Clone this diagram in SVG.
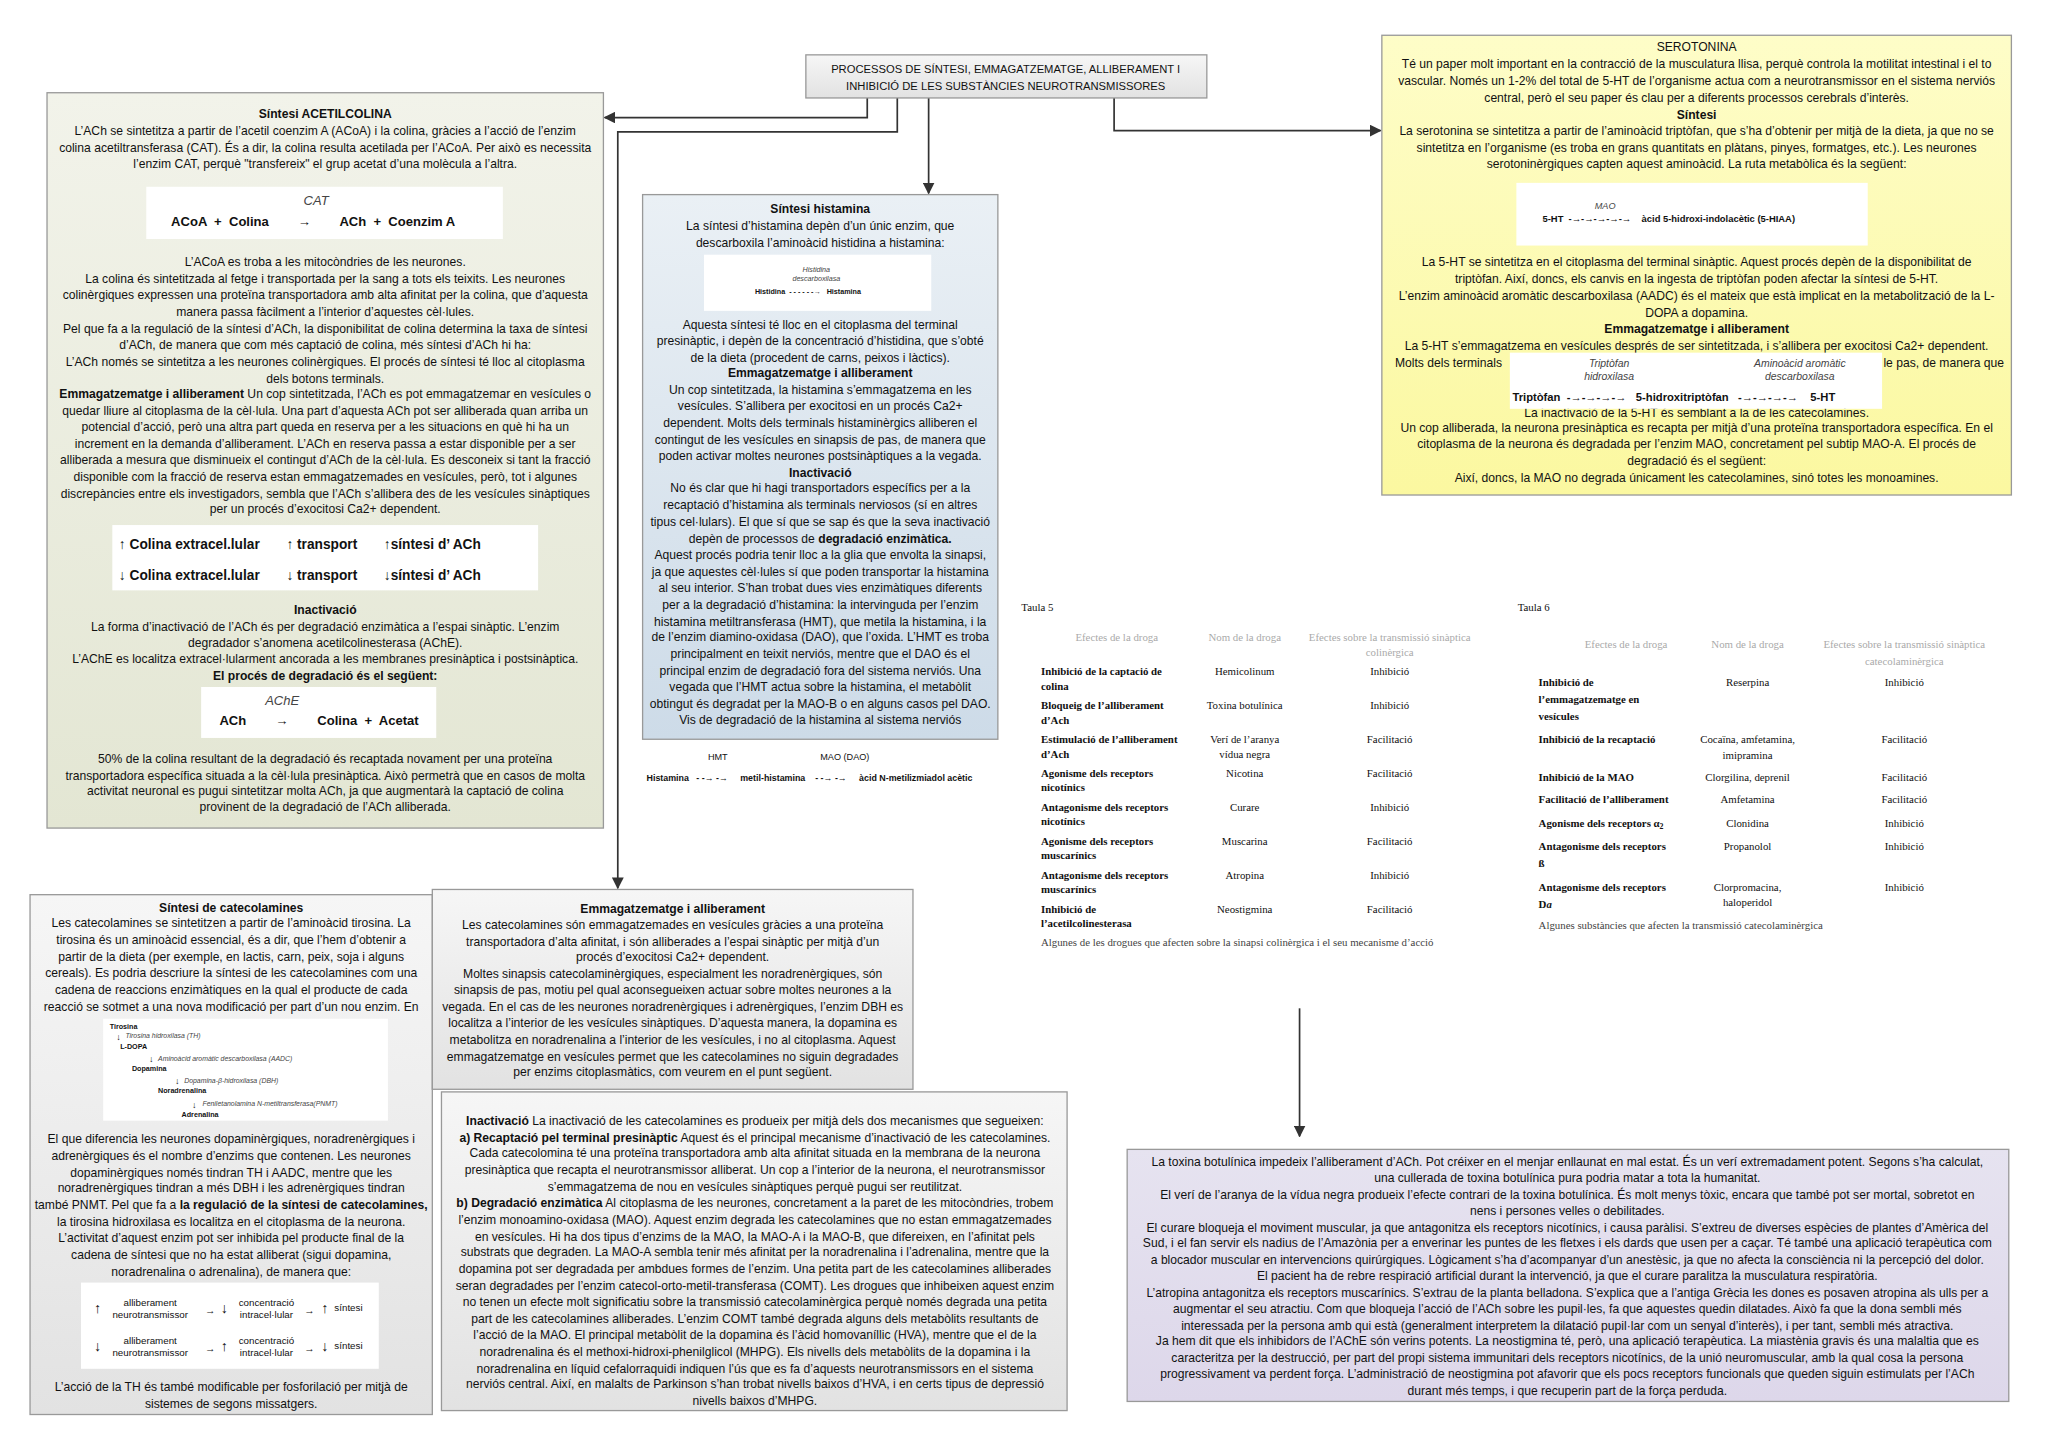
<svg xmlns="http://www.w3.org/2000/svg" width="2048" height="1450" viewBox="0 0 2048 1450">
<defs>
<style>
text{font-family:"Liberation Sans",Arial,sans-serif;font-size:9.3px;fill:#111}
.c{text-anchor:middle}
.b{font-weight:bold}
.i{font-style:italic;fill:#444}
.p{white-space:pre}
.box{stroke:#999;stroke-width:1}
.wb{fill:#fff;stroke:none}
.t{font-family:"Liberation Serif","Times New Roman",serif;font-size:8.3px}
.th{fill:#aaa}
.conn{fill:none;stroke:#333;stroke-width:1.3}
</style>
<marker id="ah" viewBox="0 0 10 10" refX="9" refY="5" markerWidth="7" markerHeight="7" orient="auto"><path d="M0,0L10,5L0,10z" fill="#333"/></marker>
<linearGradient id="gG" x1="0" y1="0" x2="0" y2="1"><stop offset="0" stop-color="#f2f3ea"/><stop offset="1" stop-color="#e3e6d3"/></linearGradient>
<linearGradient id="gB" x1="0" y1="0" x2="0" y2="1"><stop offset="0" stop-color="#eaf0f5"/><stop offset="1" stop-color="#cddbe8"/></linearGradient>
<linearGradient id="gY" x1="0" y1="0" x2="0" y2="1"><stop offset="0" stop-color="#fefdc8"/><stop offset="1" stop-color="#fbf8a0"/></linearGradient>
<linearGradient id="gW" x1="0" y1="0" x2="0" y2="1"><stop offset="0" stop-color="#f6f6f6"/><stop offset="1" stop-color="#e2e2e2"/></linearGradient>
<linearGradient id="gP" x1="0" y1="0" x2="0" y2="1"><stop offset="0" stop-color="#e6e3f0"/><stop offset="1" stop-color="#ddd7ea"/></linearGradient>
</defs>
<rect width="2048" height="1450" fill="#fff"/>
<g transform="scale(1.3061)">

<g id="connectors">
<path class="conn" d="M664,75V90H463" marker-end="url(#ah)"/>
<path class="conn" d="M687,75V101H473V680" marker-end="url(#ah)"/>
<path class="conn" d="M711,75V148" marker-end="url(#ah)"/>
<path class="conn" d="M853,75V100H1057" marker-end="url(#ah)"/>
<path class="conn" d="M995,772V870" marker-end="url(#ah)"/>
</g>

<g id="title">
<rect class="box" x="617" y="42" width="307" height="33" fill="url(#gW)"/>
<text class="c" x="770" y="56" style="font-size:8.6px">PROCESSOS DE SÍNTESI, EMMAGATZEMATGE, ALLIBERAMENT I</text>
<text class="c" x="770" y="69" style="font-size:8.6px">INHIBICIÓ DE LES SUBSTÀNCIES NEUROTRANSMISSORES</text>
</g>

<g id="ach">
<rect class="box" x="36" y="71" width="426" height="563" fill="url(#gG)"/>
<text class="c b" x="249" y="90">Síntesi ACETILCOLINA</text>
<text class="c" x="249" y="103">L’ACh se sintetitza a partir de l’acetil coenzim A (ACoA) i la colina, gràcies a l’acció de l’enzim</text>
<text class="c" x="249" y="116">colina acetiltransferasa (CAT). És a dir, la colina resulta acetilada per l’ACoA. Per això es necessita</text>
<text class="c" x="249" y="129">l’enzim CAT, perquè "transfereix" el grup acetat d’una molècula a l’altra.</text>
<rect class="wb" x="112" y="143" width="273" height="40"/>
<text class="c i" x="242" y="157" style="font-size:10px">CAT</text>
<text class="b p" x="131" y="173" style="font-size:10px">ACoA  +  Colina        →        ACh  +  Coenzim A</text>
<text class="c" x="249" y="204">L’ACoA es troba a les mitocòndries de les neurones.</text>
<text class="c" x="249" y="217">La colina és sintetitzada al fetge i transportada per la sang a tots els teixits. Les neurones</text>
<text class="c" x="249" y="229">colinèrgiques expressen una proteïna transportadora amb alta afinitat per la colina, que d’aquesta</text>
<text class="c" x="249" y="242">manera passa fàcilment a l’interior d’aquestes cèl·lules.</text>
<text class="c" x="249" y="255">Pel que fa a la regulació de la síntesi d’ACh, la disponibilitat de colina determina la taxa de síntesi</text>
<text class="c" x="249" y="267">d’ACh, de manera que com més captació de colina, més síntesi d’ACh hi ha:</text>
<text class="c" x="249" y="280">L’ACh només se sintetitza a les neurones colinèrgiques. El procés de síntesi té lloc al citoplasma</text>
<text class="c" x="249" y="293">dels botons terminals.</text>
<text class="c" x="249" y="305"><tspan class="b">Emmagatzematge i alliberament</tspan> Un cop sintetitzada, l’ACh es pot emmagatzemar en vesícules o</text>
<text class="c" x="249" y="318">quedar lliure al citoplasma de la cèl·lula. Una part d’aquesta ACh pot ser alliberada quan arriba un</text>
<text class="c" x="249" y="330">potencial d’acció, però una altra part queda en reserva per a les situacions en què hi ha un</text>
<text class="c" x="249" y="343">increment en la demanda d’alliberament. L’ACh en reserva passa a estar disponible per a ser</text>
<text class="c" x="249" y="355">alliberada a mesura que disminueix el contingut d’ACh de la cèl·lula. Es desconeix si tant la fracció</text>
<text class="c" x="249" y="368">disponible com la fracció de reserva estan emmagatzemades en vesícules, però, tot i algunes</text>
<text class="c" x="249" y="381">discrepàncies entre els investigadors, sembla que l’ACh s’allibera des de les vesícules sinàptiques</text>
<text class="c" x="249" y="393">per un procés d’exocitosi Ca2+ dependent.</text>
<rect class="wb" x="86" y="402" width="326" height="50"/>
<text class="b p" x="91" y="420" style="font-size:10.5px">↑ Colina extracel.lular       ↑ transport       ↑síntesi d’ ACh</text>
<text class="b p" x="91" y="444" style="font-size:10.5px">↓ Colina extracel.lular       ↓ transport       ↓síntesi d’ ACh</text>
<text class="c b" x="249" y="470">Inactivació</text>
<text class="c" x="249" y="483">La forma d’inactivació de l’ACh és per degradació enzimàtica a l’espai sinàptic. L’enzim</text>
<text class="c" x="249" y="495">degradador s’anomena acetilcolinesterasa (AChE).</text>
<text class="c" x="249" y="508">L’AChE es localitza extracel·lularment ancorada a les membranes presinàptica i postsinàptica.</text>
<text class="c b" x="249" y="521">El procés de degradació és el següent:</text>
<rect class="wb" x="154" y="526" width="180" height="39"/>
<text class="i" x="203" y="540" style="font-size:10px">AChE</text>
<text class="b p" x="168" y="555" style="font-size:10px">ACh        →        Colina  +  Acetat</text>
<text class="c" x="249" y="584">50% de la colina resultant de la degradació és recaptada novament per una proteïna</text>
<text class="c" x="249" y="597">transportadora específica situada a la cèl·lula presinàptica. Això permetrà que en casos de molta</text>
<text class="c" x="249" y="609">activitat neuronal es pugui sintetitzar molta ACh, ja que augmentarà la captació de colina</text>
<text class="c" x="249" y="621">provinent de la degradació de l’ACh alliberada.</text>
</g>

<g id="histamina">
<rect class="box" x="492" y="149" width="272" height="417" fill="url(#gB)"/>
<text class="c b" x="628" y="163">Síntesi histamina</text>
<text class="c" x="628" y="176">La síntesi d’histamina depèn d’un únic enzim, que</text>
<text class="c" x="628" y="189">descarboxila l’aminoàcid histidina a histamina:</text>
<rect class="wb" x="539" y="195" width="174" height="43"/>
<text class="c i" x="625" y="208" style="font-size:5.5px">Histidina</text>
<text class="c i" x="625" y="215" style="font-size:5.5px">descarboxilasa</text>
<text class="b p" x="578" y="225" style="font-size:5.5px">Histidina  - - - - - -→   Histamina</text>
<text class="c" x="628" y="252">Aquesta síntesi té lloc en el citoplasma del terminal</text>
<text class="c" x="628" y="264">presinàptic, i depèn de la concentració d’histidina, que s’obté</text>
<text class="c" x="628" y="277">de la dieta (procedent de carns, peixos i làctics).</text>
<text class="c b" x="628" y="289">Emmagatzematge i alliberament</text>
<text class="c" x="628" y="302">Un cop sintetitzada, la histamina s’emmagatzema en les</text>
<text class="c" x="628" y="314">vesícules.  S’allibera per exocitosi en un procés Ca2+</text>
<text class="c" x="628" y="327">dependent. Molts dels terminals histaminèrgics alliberen el</text>
<text class="c" x="628" y="340">contingut de les vesícules en sinapsis de pas, de manera que</text>
<text class="c" x="628" y="352">poden activar moltes neurones postsinàptiques a la vegada.</text>
<text class="c b" x="628" y="365">Inactivació</text>
<text class="c" x="628" y="377">No és clar que hi hagi transportadors específics per a la</text>
<text class="c" x="628" y="390">recaptació d’histamina als terminals nerviosos (sí en altres</text>
<text class="c" x="628" y="403">tipus cel·lulars). El que sí que se sap és que la seva inactivació</text>
<text class="c" x="628" y="416">depèn de processos de <tspan class="b">degradació enzimàtica.</tspan></text>
<text class="c" x="628" y="428">Aquest procés podria tenir lloc a la glia que envolta la sinapsi,</text>
<text class="c" x="628" y="441">ja que aquestes cèl·lules sí que poden transportar la histamina</text>
<text class="c" x="628" y="453">al seu interior. S’han trobat dues vies enzimàtiques diferents</text>
<text class="c" x="628" y="466">per a la degradació d’histamina: la intervinguda per l’enzim</text>
<text class="c" x="628" y="479">histamina metiltransferasa (HMT), que metila la histamina, i la</text>
<text class="c" x="628" y="491">de l’enzim diamino-oxidasa (DAO), que l’oxida. L’HMT es troba</text>
<text class="c" x="628" y="504">principalment en teixit nerviós, mentre que el DAO és el</text>
<text class="c" x="628" y="517">principal enzim de degradació fora del sistema nerviós. Una</text>
<text class="c" x="628" y="529">vegada que l’HMT actua sobre la histamina, el metabòlit</text>
<text class="c" x="628" y="542">obtingut és degradat per la MAO-B o en alguns casos pel DAO.</text>
<text class="c" x="628" y="554">Vis de degradació de la histamina al sistema nerviós</text>
</g>

<g id="hist-chain">
<text x="542" y="582" style="font-size:7px">HMT</text>
<text x="628" y="582" style="font-size:7px">MAO (DAO)</text>
<text class="b p" x="495" y="598" style="font-size:6.8px">Histamina   - -→ -→     metil-histamina    - -→ -→     àcid N-metilizmiadol acètic</text>
</g>

<g id="serotonina">
<rect class="box" x="1058" y="27" width="482" height="352" fill="url(#gY)"/>
<text class="c" x="1299" y="39">SEROTONINA</text>
<text class="c" x="1299" y="52">Té un paper molt important en la contracció de la musculatura llisa, perquè controla la motilitat intestinal i el to</text>
<text class="c" x="1299" y="65">vascular. Només un 1-2% del total de 5-HT de l’organisme actua com a neurotransmissor en el sistema nerviós</text>
<text class="c" x="1299" y="78">central, però el seu paper és clau per a diferents processos cerebrals d’interès.</text>
<text class="c b" x="1299" y="91">Síntesi</text>
<text class="c" x="1299" y="103">La serotonina se sintetitza a partir de l’aminoàcid triptòfan, que s’ha d’obtenir per mitjà de la dieta, ja que no se</text>
<text class="c" x="1299" y="116">sintetitza en l’organisme (es troba en grans quantitats en plàtans, pinyes, formatges, etc.). Les neurones</text>
<text class="c" x="1299" y="129">serotoninèrgiques capten aquest aminoàcid. La ruta metabòlica és la següent:</text>
<rect class="wb" x="1161" y="140" width="269" height="48"/>
<text class="i" x="1221" y="160" style="font-size:7px">MAO</text>
<text class="b p" x="1181" y="170" style="font-size:7.2px">5-HT  -→-→-→-→-→    àcid 5-hidroxi-indolacètic (5-HIAA)</text>
<text class="c" x="1299" y="204">La 5-HT se sintetitza en el citoplasma del terminal sinàptic. Aquest procés depèn de la disponibilitat de</text>
<text class="c" x="1299" y="217">triptòfan. Així, doncs, els canvis en la ingesta de triptòfan poden afectar la síntesi de 5-HT.</text>
<text class="c" x="1299" y="230">L’enzim aminoàcid aromàtic descarboxilasa (AADC) és el mateix que està implicat en la metabolització de la L-</text>
<text class="c" x="1299" y="243">DOPA a dopamina.</text>
<text class="c b" x="1299" y="255">Emmagatzematge i alliberament</text>
<text class="c" x="1299" y="268">La 5-HT s’emmagatzema en vesícules després de ser sintetitzada, i s’allibera per exocitosi Ca2+ dependent.</text>
<text x="1068" y="281">Molts dels terminals</text>
<text x="1442" y="281">le pas, de manera que</text>
<text class="c" x="1299" y="319">La inactivació de la 5-HT és semblant a la de les catecolamines.</text>
<rect class="wb" x="1156" y="270" width="285" height="43"/>
<text class="c i" x="1232" y="281" style="font-size:8px">Triptòfan</text>
<text class="c i" x="1232" y="291" style="font-size:8px">hidroxilasa</text>
<text class="c i" x="1378" y="281" style="font-size:8px">Aminoàcid aromàtic</text>
<text class="c i" x="1378" y="291" style="font-size:8px">descarboxilasa</text>
<text class="b p" x="1158" y="307" style="font-size:8.6px">Triptòfan  -→-→-→-→   5-hidroxitriptòfan   -→-→-→-→    5-HT</text>
<text class="c" x="1299" y="331">Un cop alliberada, la neurona presinàptica es recapta per mitjà d’una proteïna transportadora específica. En el</text>
<text class="c" x="1299" y="343">citoplasma de la neurona és degradada per l’enzim MAO, concretament pel subtip MAO-A. El procés de</text>
<text class="c" x="1299" y="356">degradació és el següent:</text>
<text class="c" x="1299" y="369">Així, doncs, la MAO no degrada únicament les catecolamines, sinó totes les monoamines.</text>
</g>

<g id="taula5">
<text class="t" x="782" y="468">Taula 5</text>
<text class="t th c" x="855" y="491">Efectes de la droga</text>
<text class="t th c" x="953" y="491">Nom de la droga</text>
<text class="t th c" x="1064" y="491">Efectes sobre la transmissió sinàptica</text>
<text class="t th c" x="1064" y="502">colinèrgica</text>
<text class="t b" x="797" y="517">Inhibició de la captació de</text><text class="t b" x="797" y="528">colina</text>
<text class="t c" x="953" y="517">Hemicolinum</text><text class="t c" x="1064" y="517">Inhibició</text>
<text class="t b" x="797" y="543">Bloqueig de l’alliberament</text><text class="t b" x="797" y="554">d’Ach</text>
<text class="t c" x="953" y="543">Toxina botulínica</text><text class="t c" x="1064" y="543">Inhibició</text>
<text class="t b" x="797" y="569">Estimulació de l’alliberament</text><text class="t b" x="797" y="580">d’Ach</text>
<text class="t c" x="953" y="569">Verí de l’aranya</text><text class="t c" x="953" y="580">vídua negra</text><text class="t c" x="1064" y="569">Facilitació</text>
<text class="t b" x="797" y="595">Agonisme dels receptors</text><text class="t b" x="797" y="606">nicotínics</text>
<text class="t c" x="953" y="595">Nicotina</text><text class="t c" x="1064" y="595">Facilitació</text>
<text class="t b" x="797" y="621">Antagonisme dels receptors</text><text class="t b" x="797" y="632">nicotínics</text>
<text class="t c" x="953" y="621">Curare</text><text class="t c" x="1064" y="621">Inhibició</text>
<text class="t b" x="797" y="647">Agonisme dels receptors</text><text class="t b" x="797" y="658">muscarínics</text>
<text class="t c" x="953" y="647">Muscarina</text><text class="t c" x="1064" y="647">Facilitació</text>
<text class="t b" x="797" y="673">Antagonisme dels receptors</text><text class="t b" x="797" y="684">muscarínics</text>
<text class="t c" x="953" y="673">Atropina</text><text class="t c" x="1064" y="673">Inhibició</text>
<text class="t b" x="797" y="699">Inhibició de</text><text class="t b" x="797" y="710">l’acetilcolinesterasa</text>
<text class="t c" x="953" y="699">Neostigmina</text><text class="t c" x="1064" y="699">Facilitació</text>
<text class="t" x="797" y="724" style="fill:#444">Algunes de les drogues que afecten sobre la sinapsi colinèrgica i el seu mecanisme d’acció</text>
</g>

<g id="taula6">
<text class="t" x="1162" y="468">Taula 6</text>
<text class="t th c" x="1245" y="496">Efectes de la droga</text>
<text class="t th c" x="1338" y="496">Nom de la droga</text>
<text class="t th c" x="1458" y="496">Efectes sobre la transmissió sinàptica</text>
<text class="t th c" x="1458" y="509">catecolaminèrgica</text>
<text class="t b" x="1178" y="525">Inhibició de</text><text class="t b" x="1178" y="538">l’emmagatzematge en</text><text class="t b" x="1178" y="551">vesícules</text>
<text class="t c" x="1338" y="525">Reserpina</text><text class="t c" x="1458" y="525">Inhibició</text>
<text class="t b" x="1178" y="569">Inhibició de la recaptació</text>
<text class="t c" x="1338" y="569">Cocaïna, amfetamina,</text><text class="t c" x="1338" y="581">imipramina</text><text class="t c" x="1458" y="569">Facilitació</text>
<text class="t b" x="1178" y="598">Inhibició de la MAO</text>
<text class="t c" x="1338" y="598">Clorgilina, deprenil</text><text class="t c" x="1458" y="598">Facilitació</text>
<text class="t b" x="1178" y="615">Facilitació de l’alliberament</text>
<text class="t c" x="1338" y="615">Amfetamina</text><text class="t c" x="1458" y="615">Facilitació</text>
<text class="t b" x="1178" y="633">Agonisme dels receptors α<tspan dy="2" style="font-size:6px">2</tspan></text>
<text class="t c" x="1338" y="633">Clonidina</text><text class="t c" x="1458" y="633">Inhibició</text>
<text class="t b" x="1178" y="651">Antagonisme dels receptors</text><text class="t b" x="1178" y="664">ß</text>
<text class="t c" x="1338" y="651">Propanolol</text><text class="t c" x="1458" y="651">Inhibició</text>
<text class="t b" x="1178" y="682">Antagonisme dels receptors</text><text class="t b" x="1178" y="695">D<tspan style="font-style:italic">a</tspan></text>
<text class="t c" x="1338" y="682">Clorpromacina,</text><text class="t c" x="1338" y="694">haloperidol</text><text class="t c" x="1458" y="682">Inhibició</text>
<text class="t" x="1178" y="711" style="fill:#444">Algunes substàncies que afecten la transmissió catecolaminèrgica</text>
</g>

<g id="catecolamines">
<rect class="box" x="23" y="685" width="308" height="398" fill="url(#gW)"/>
<text class="c b" x="177" y="698">Síntesi de catecolamines</text>
<text class="c" x="177" y="710">Les catecolamines se sintetitzen a partir de l’aminoàcid tirosina. La</text>
<text class="c" x="177" y="723">tirosina és un aminoàcid essencial, és a dir, que l’hem d’obtenir a</text>
<text class="c" x="177" y="736">partir de la dieta (per exemple, en lactis, carn, peix, soja i alguns</text>
<text class="c" x="177" y="748">cereals).  Es podria descriure la síntesi de les catecolamines com una</text>
<text class="c" x="177" y="761">cadena de reaccions enzimàtiques en la qual el producte de cada</text>
<text class="c" x="177" y="774">reacció se sotmet a una nova modificació per part d’un nou enzim. En</text>
<rect class="wb" x="79" y="780" width="218" height="78"/>
<text class="b" x="84" y="788" style="font-size:5.5px">Tirosina</text>
<text x="89" y="796" style="font-size:7px">↓</text><text class="i" x="96" y="795" style="font-size:5.3px">Tirosina hidroxilasa (TH)</text>
<text class="b" x="92" y="803" style="font-size:5.5px">L-DOPA</text>
<text x="114" y="813" style="font-size:7px">↓</text><text class="i" x="121" y="812" style="font-size:5.3px">Aminoàcid aromàtic descarboxilasa (AADC)</text>
<text class="b" x="101" y="820" style="font-size:5.5px">Dopamina</text>
<text x="134" y="830" style="font-size:7px">↓</text><text class="i" x="141" y="829" style="font-size:5.3px">Dopamina-β-hidroxilasa (DBH)</text>
<text class="b" x="121" y="837" style="font-size:5.5px">Noradrenalina</text>
<text x="147" y="848" style="font-size:7px">↓</text><text class="i" x="155" y="847" style="font-size:5.3px">Feniletanolamina N-metiltransferasa(PNMT)</text>
<text class="b" x="139" y="855" style="font-size:5.5px">Adrenalina</text>
<text class="c" x="177" y="875">El que diferencia les neurones dopaminèrgiques, noradrenèrgiques i</text>
<text class="c" x="177" y="888">adrenèrgiques és el nombre d’enzims que contenen. Les neurones</text>
<text class="c" x="177" y="901">dopaminèrgiques només tindran TH i AADC, mentre que les</text>
<text class="c" x="177" y="913">noradrenèrgiques tindran a més DBH i les adrenèrgiques tindran</text>
<text class="c" x="177" y="926">també PNMT. Pel que fa a <tspan class="b">la regulació de la síntesi de catecolamines,</tspan></text>
<text class="c" x="177" y="939">la tirosina hidroxilasa es localitza en el citoplasma de la neurona.</text>
<text class="c" x="177" y="951">L’activitat d’aquest enzim pot ser inhibida pel producte final de la</text>
<text class="c" x="177" y="964">cadena de síntesi que no ha estat alliberat (sigui dopamina,</text>
<text class="c" x="177" y="977">noradrenalina o adrenalina), de manera que:</text>
<rect class="wb" x="62" y="982" width="228" height="66"/>
<text x="72" y="1005" style="font-size:11px">↑</text><text class="c" x="115" y="1000" style="font-size:7.5px">alliberament</text><text class="c" x="115" y="1009" style="font-size:7.5px">neurotransmissor</text>
<text x="157" y="1006" style="font-size:8px">→</text><text x="169" y="1005" style="font-size:11px">↓</text><text class="c" x="204" y="1000" style="font-size:7.5px">concentració</text><text class="c" x="204" y="1009" style="font-size:7.5px">intracel·lular</text>
<text x="233" y="1006" style="font-size:8px">→</text><text x="246" y="1005" style="font-size:11px">↑</text><text x="256" y="1004" style="font-size:7.5px">síntesi</text>
<text x="72" y="1034" style="font-size:11px">↓</text><text class="c" x="115" y="1029" style="font-size:7.5px">alliberament</text><text class="c" x="115" y="1038" style="font-size:7.5px">neurotransmissor</text>
<text x="157" y="1035" style="font-size:8px">→</text><text x="169" y="1034" style="font-size:11px">↑</text><text class="c" x="204" y="1029" style="font-size:7.5px">concentració</text><text class="c" x="204" y="1038" style="font-size:7.5px">intracel·lular</text>
<text x="233" y="1035" style="font-size:8px">→</text><text x="246" y="1034" style="font-size:11px">↓</text><text x="256" y="1033" style="font-size:7.5px">síntesi</text>
<text class="c" x="177" y="1065">L’acció de la TH és també modificable per fosforilació per mitjà de</text>
<text class="c" x="177" y="1078">sistemes de segons missatgers.</text>
</g>

<g id="emmagatzematge">
<rect class="box" x="331" y="681" width="368" height="153" fill="url(#gW)"/>
<text class="c b" x="515" y="699">Emmagatzematge i alliberament</text>
<text class="c" x="515" y="711">Les catecolamines són emmagatzemades en vesícules gràcies a una proteïna</text>
<text class="c" x="515" y="724">transportadora d’alta afinitat, i són alliberades a l’espai sinàptic per mitjà d’un</text>
<text class="c" x="515" y="736">procés d’exocitosi Ca2+ dependent.</text>
<text class="c" x="515" y="749">Moltes sinapsis catecolaminèrgiques, especialment les noradrenèrgiques, són</text>
<text class="c" x="515" y="761">sinapsis de pas, motiu pel qual aconsegueixen actuar sobre moltes neurones a la</text>
<text class="c" x="515" y="774">vegada.  En el cas de les neurones noradrenèrgiques i adrenèrgiques, l’enzim DBH es</text>
<text class="c" x="515" y="786">localitza a l’interior de les vesícules sinàptiques. D’aquesta manera, la dopamina es</text>
<text class="c" x="515" y="799">metabolitza en noradrenalina a l’interior de les vesícules, i no al citoplasma.  Aquest</text>
<text class="c" x="515" y="812">emmagatzematge en vesícules permet que les catecolamines no siguin degradades</text>
<text class="c" x="515" y="824">per enzims citoplasmàtics, com veurem en el punt següent.</text>
</g>

<g id="inactivacio">
<rect class="box" x="338" y="836" width="479" height="244" fill="url(#gW)"/>
<text class="c" x="578" y="861"><tspan class="b">Inactivació</tspan> La inactivació de les catecolamines es produeix per mitjà dels dos mecanismes que segueixen:</text>
<text class="c" x="578" y="874"><tspan class="b">a) Recaptació pel terminal presinàptic</tspan> Aquest és el principal mecanisme d’inactivació de les catecolamines.</text>
<text class="c" x="578" y="886">Cada catecolomina té una proteïna transportadora amb alta afinitat situada en la membrana de la neurona</text>
<text class="c" x="578" y="899">presinàptica que recapta el neurotransmissor alliberat. Un cop a l’interior de la neurona, el neurotransmissor</text>
<text class="c" x="578" y="912">s’emmagatzema de nou en vesícules sinàptiques perquè pugui ser reutilitzat.</text>
<text class="c" x="578" y="924"><tspan class="b">b) Degradació enzimàtica</tspan> Al citoplasma de les neurones, concretament a la paret de les mitocòndries, trobem</text>
<text class="c" x="578" y="937">l’enzim monoamino-oxidasa (MAO). Aquest enzim degrada les catecolamines que no estan emmagatzemades</text>
<text class="c" x="578" y="950">en vesícules. Hi ha dos tipus d’enzims de la MAO, la MAO-A i la MAO-B, que difereixen, en l’afinitat pels</text>
<text class="c" x="578" y="962">substrats que degraden. La MAO-A sembla tenir més afinitat per la noradrenalina i l’adrenalina, mentre que la</text>
<text class="c" x="578" y="975">dopamina pot ser degradada per ambdues formes de l’enzim.  Una petita part de les catecolamines alliberades</text>
<text class="c" x="578" y="988">seran degradades per l’enzim catecol-orto-metil-transferasa (COMT). Les drogues que inhibeixen aquest enzim</text>
<text class="c" x="578" y="1000">no tenen un efecte molt significatiu sobre la transmissió catecolaminèrgica perquè només degrada una petita</text>
<text class="c" x="578" y="1013">part de les catecolamines alliberades. L’enzim COMT també degrada alguns dels metabòlits resultants de</text>
<text class="c" x="578" y="1025">l’acció de la MAO. El principal metabòlit de la dopamina és l’àcid homovaníllic (HVA), mentre que el de la</text>
<text class="c" x="578" y="1038">noradrenalina és el methoxi-hidroxi-phenilglicol (MHPG). Els nivells dels metabòlits de la dopamina i la</text>
<text class="c" x="578" y="1051">noradrenalina en líquid cefalorraquidi indiquen l’ús que es fa d’aquests neurotransmissors en el sistema</text>
<text class="c" x="578" y="1063">nerviós central. Així, en malalts de Parkinson s’han trobat nivells baixos d’HVA, i en certs tipus de depressió</text>
<text class="c" x="578" y="1076">nivells baixos d’MHPG.</text>
</g>

<g id="drogues">
<rect class="box" x="863" y="880" width="675" height="193" fill="url(#gP)"/>
<text class="c" x="1200" y="893">La toxina botulínica impedeix l’alliberament d’ACh. Pot créixer en el menjar enllaunat en mal estat. És un verí extremadament potent. Segons s’ha calculat,</text>
<text class="c" x="1200" y="905">una cullerada de toxina botulínica pura podria matar a tota la humanitat.</text>
<text class="c" x="1200" y="918">El verí de l’aranya de la vídua negra produeix l’efecte contrari de la toxina botulínica. És molt menys tòxic, encara que també pot ser mortal, sobretot en</text>
<text class="c" x="1200" y="930">nens i persones velles o debilitades.</text>
<text class="c" x="1200" y="943">El curare bloqueja el moviment muscular, ja que antagonitza els receptors nicotínics, i causa paràlisi. S’extreu de diverses espècies de plantes d’Amèrica del</text>
<text class="c" x="1200" y="955">Sud, i el fan servir els nadius de l’Amazònia per a enverinar les puntes de les fletxes i els dards que usen per a caçar. Té també una aplicació terapèutica com</text>
<text class="c" x="1200" y="968">a blocador muscular en intervencions quirúrgiques. Lògicament s’ha d’acompanyar d’un anestèsic, ja que no afecta la consciència ni la percepció del dolor.</text>
<text class="c" x="1200" y="980">El pacient ha de rebre respiració artificial durant la intervenció, ja que el curare paralitza la musculatura respiratòria.</text>
<text class="c" x="1200" y="993">L’atropina antagonitza els receptors muscarínics. S’extrau de la planta belladona. S’explica que a l’antiga Grècia les dones es posaven atropina als ulls per a</text>
<text class="c" x="1200" y="1005">augmentar el seu atractiu. Com que bloqueja l’acció de l’ACh sobre les pupil·les, fa que aquestes quedin dilatades. Això fa que la dona sembli més</text>
<text class="c" x="1200" y="1018">interessada per la persona amb qui està (generalment interpretem la dilatació pupil·lar com un senyal d’interès), i per tant, sembli més atractiva.</text>
<text class="c" x="1200" y="1030">Ja hem dit que els inhibidors de l’AChE són verins potents. La neostigmina té, però, una aplicació terapèutica. La miastènia gravis és una malaltia que es</text>
<text class="c" x="1200" y="1043">caracteritza per la destrucció, per part del propi sistema immunitari dels receptors nicotínics, de la unió neuromuscular, amb la qual cosa la persona</text>
<text class="c" x="1200" y="1055">progressivament va perdent força. L’administració de neostigmina pot afavorir que els pocs receptors funcionals que queden siguin estimulats per l’ACh</text>
<text class="c" x="1200" y="1068">durant més temps, i que recuperin part de la força perduda.</text>
</g>

</g>
</svg>
